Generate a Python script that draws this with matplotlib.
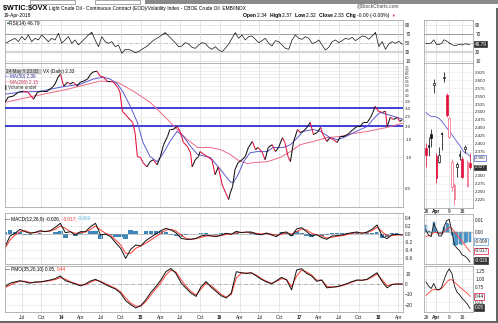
import numpy as np
import matplotlib
matplotlib.use("Agg")
import matplotlib.pyplot as plt
from matplotlib.collections import LineCollection
from matplotlib.patches import Rectangle

plt.rcParams['font.family'] = ['Liberation Sans', 'DejaVu Sans']

# ---------------- data (main, decimal years) ----------------
T_START, T_END = 2013.29, 2018.30

price_t = [2013.29, 2013.33, 2013.39, 2013.46, 2013.52, 2013.58, 2013.65, 2013.70, 2013.76, 2013.82,
           2013.89, 2013.92, 2013.96, 2013.99, 2014.03, 2014.08, 2014.11, 2014.15, 2014.20, 2014.24,
           2014.28, 2014.33, 2014.37, 2014.40, 2014.45, 2014.49, 2014.53, 2014.58, 2014.62, 2014.66,
           2014.71, 2014.74, 2014.77, 2014.81, 2014.84, 2014.90, 2014.93, 2014.96, 2015.00, 2015.03,
           2015.08, 2015.12, 2015.16, 2015.21, 2015.25, 2015.29, 2015.34, 2015.37, 2015.41, 2015.46,
           2015.50, 2015.54, 2015.59, 2015.63, 2015.65, 2015.69, 2015.73, 2015.75, 2015.84, 2015.90,
           2015.94, 2015.98, 2016.03, 2016.07, 2016.11, 2016.13, 2016.16, 2016.19, 2016.23, 2016.28,
           2016.32, 2016.36, 2016.41, 2016.45, 2016.48, 2016.53, 2016.57, 2016.61, 2016.66, 2016.70,
           2016.74, 2016.79, 2016.82, 2016.86, 2016.89, 2016.93, 2016.98, 2017.01, 2017.05, 2017.10,
           2017.14, 2017.18, 2017.23, 2017.27, 2017.30, 2017.35, 2017.39, 2017.43, 2017.48, 2017.52,
           2017.56, 2017.61, 2017.64, 2017.68, 2017.73, 2017.77, 2017.81, 2017.86, 2017.90, 2017.93,
           2017.96, 2018.00, 2018.05, 2018.09, 2018.11, 2018.15, 2018.19, 2018.24, 2018.27, 2018.30]
price_v = [3.44, 3.85, 3.94, 4.31, 4.40, 4.31, 3.68, 4.31, 4.40, 4.40,
           4.82, 5.16, 6.04, 6.46, 4.93, 5.39, 5.16, 5.39, 4.93, 5.39,
           5.52, 5.77, 6.46, 6.76, 6.91, 6.17, 6.04, 5.52, 5.52, 5.39,
           4.82, 4.31, 2.81, 2.62, 2.45, 2.19, 1.75, 1.02, 1.00, 0.89,
           0.81, 0.91, 0.95, 0.85, 1.02, 1.33, 1.60, 1.87, 1.87, 2.00,
           1.79, 1.40, 1.28, 1.11, 0.81, 0.95, 1.02, 1.14, 1.02, 0.95,
           0.68, 0.81, 0.54, 0.46, 0.39, 0.45, 0.52, 0.76, 0.89, 0.95,
           1.02, 1.25, 1.43, 1.19, 1.25, 1.14, 0.95, 1.25, 1.33, 1.14,
           1.25, 1.56, 1.40, 1.02, 0.91, 1.43, 1.87, 1.75, 1.79, 1.96,
           2.19, 1.67, 1.75, 1.96, 1.67, 1.43, 1.56, 1.49, 1.40, 1.60,
           1.60, 1.67, 1.75, 1.87, 2.00, 2.00, 2.19, 2.19, 2.45, 2.74,
           3.14, 2.81, 2.74, 2.81, 2.00, 2.45, 2.34, 2.45, 2.24, 2.33]

ma50_t = [2013.29, 2013.48, 2013.74, 2013.99, 2014.24, 2014.40, 2014.53, 2014.62, 2014.71, 2014.78,
          2014.87, 2014.96, 2015.03, 2015.12, 2015.21, 2015.29, 2015.37, 2015.46, 2015.54, 2015.63,
          2015.72, 2015.88, 2016.01, 2016.13, 2016.17, 2016.23, 2016.30, 2016.38, 2016.47, 2016.60,
          2016.67, 2016.80, 2016.89, 2016.98, 2017.05, 2017.18, 2017.27, 2017.39, 2017.48, 2017.56,
          2017.64, 2017.77, 2017.86, 2017.93, 2018.02, 2018.11, 2018.19, 2018.30]
ma50_v = [4.12, 4.31, 4.40, 4.82, 5.16, 5.77, 6.04, 5.77, 5.16, 4.31,
          3.14, 2.19, 1.40, 1.02, 0.91, 1.11, 1.43, 1.79, 1.60, 1.28,
          1.07, 1.00, 0.76, 0.58, 0.57, 0.68, 0.91, 1.11, 1.14, 1.14,
          1.25, 1.25, 1.33, 1.56, 1.79, 1.87, 1.79, 1.56, 1.49, 1.56,
          1.67, 1.87, 2.00, 2.34, 2.74, 2.62, 2.51, 2.36]

ma200_t = [2013.29, 2013.65, 2014.08, 2014.49, 2014.71, 2014.91, 2015.12, 2015.34, 2015.46, 2015.59,
           2015.72, 2015.88, 2016.01, 2016.13, 2016.22, 2016.35, 2016.42, 2016.60, 2016.76, 2016.89,
           2017.01, 2017.18, 2017.35, 2017.52, 2017.68, 2017.86, 2017.98, 2018.11, 2018.30]
ma200_v = [3.44, 3.94, 4.61, 5.52, 5.39, 4.40, 3.44, 2.34, 1.87, 1.49,
           1.25, 1.25, 1.19, 1.07, 0.95, 0.87, 0.89, 0.91, 1.00, 1.14,
           1.33, 1.43, 1.56, 1.60, 1.71, 1.79, 1.87, 1.96, 2.15]

support_levels = [2.0, 3.0]

rsi_v = [49.0, 52.8, 56.6, 60.3, 52.8, 64.1, 56.6, 67.9, 52.8, 60.3,
         56.6, 67.9, 60.3, 52.8, 60.3, 56.6, 71.6, 49.0, 56.6, 64.1,
         49.0, 56.6, 45.2, 52.8, 60.3, 67.9, 73.9, 56.6, 41.5, 64.1,
         52.8, 49.0, 52.8, 41.5, 45.2, 26.4, 35.4, 35.4, 32.4, 27.9,
         30.2, 35.4, 40.0, 45.2, 52.8, 58.1, 62.6, 67.9, 73.2, 65.6,
         58.1, 50.5, 41.5, 43.0, 50.5, 47.5, 40.0, 37.7, 45.2, 50.5,
         49.0, 40.0, 35.4, 41.5, 33.9, 30.2, 37.7, 47.5, 60.3, 73.2,
         60.3, 67.9, 56.6, 64.1,
         65.6, 58.1, 50.5, 55.1, 60.3, 49.0, 43.0, 55.1, 52.8, 45.2,
         37.7, 35.4, 56.6, 67.9, 60.3, 58.1, 64.1, 60.3, 49.0, 50.5,
         56.6, 45.2, 33.9, 40.0, 52.8, 56.6, 50.5, 55.1, 60.3, 58.1,
         62.6, 55.1, 60.3, 65.6, 64.1, 58.1, 65.6, 73.9, 41.5, 52.8,
         35.4, 47.5, 52.8, 49.0, 53.5, 46.79]

macd_v = [-0.317, -0.05, 0.017, 0.117, 0.058, 0.017, 0.042, 0.083, 0.058, 0.083,
          0.167, 0.267, 0.033, 0.058, -0.025, 0.058, 0.058, 0.183, 0.267, -0.025,
          0.0, -0.067, -0.217, -0.358, -0.608, -0.383, -0.275, -0.3, -0.167, -0.083,
          0.0, 0.083, 0.142, 0.1, 0.033, -0.108, -0.133, -0.133, -0.108, -0.05,
          -0.025, -0.05, -0.067, -0.025, 0.017, -0.008, 0.067, 0.033, 0.05,
          0.05, 0.0, -0.017, 0.025, -0.025, -0.067, 0.033, 0.05, -0.05, 0.125,
          0.158, 0.058, -0.05, -0.017, -0.092, -0.133, -0.05, -0.042, -0.025, 0.008,
          0.033, 0.05, 0.017, 0.05, 0.117, 0.225, -0.05, -0.117, -0.017, -0.008, -0.026]
macd_sig = [-0.358, -0.15, -0.025, 0.058, 0.083, 0.033, 0.033, 0.058, 0.067, 0.075,
            0.117, 0.2, 0.142, 0.058, 0.017, 0.033, 0.05, 0.117, 0.2, 0.1,
            0.017, -0.033, -0.15, -0.275, -0.483, -0.483, -0.358, -0.3, -0.233, -0.15,
            -0.067, 0.017, 0.1, 0.117, 0.075, -0.025, -0.108, -0.133, -0.117, -0.083,
            -0.05, -0.042, -0.05, -0.042, -0.008, 0.0, 0.033, 0.042, 0.042,
            0.033, 0.017, 0.0, 0.008, 0.0, -0.033, -0.008, 0.033, 0.0, 0.058,
            0.125, 0.1, 0.017, -0.017, -0.05, -0.1, -0.083, -0.058, -0.042, -0.017,
            0.017, 0.033, 0.025, 0.033, 0.083, 0.167, 0.058, -0.05, -0.042, -0.025, -0.017]

pmo_v = [-2.3, 1.0, 2.3, 3.5, 2.3, 1.0, 2.3, 2.3, 3.2, 4.2,
         5.5, 8.1, 3.5, 1.9, 0.3, -1.6, 0.3, 3.2, 4.8, 2.3,
         -0.3, -2.6, -4.8, -8.7, -16.1, -20.0, -23.2, -21.0, -15.2, -8.1,
         -2.3, 4.2, 12.3, 15.5, 10.6, 1.6, -3.9, -8.7, -11.9, -2.3,
         2.6, -2.9, -7.1, -11.3, -13.5, -8.7, 12.3, 11.3, 10.6,
         11.3, 8.1, 4.8, 2.3, 0.3, 3.5, 6.8, 4.2, -5.5, 13.9,
         15.2, 10.6, 8.1, 2.9, 4.2, -3.5, -2.9, -2.3, -1.0, 0.6,
         2.6, 4.2, 3.9, 4.8, 8.1, 11.3, 2.6, -3.5, -0.3, 0.3, 0.05]
pmo_sig = [-3.0, -1.0, 1.5, 2.8, 3.0, 1.8, 1.8, 2.2, 2.8, 3.6,
           4.6, 6.5, 5.0, 2.5, 0.8, -0.8, -0.5, 2.0, 4.0, 3.0,
           0.5, -1.8, -4.0, -7.5, -13.5, -18.5, -21.5, -21.5, -17.0, -10.5,
           -4.5, 1.5, 9.0, 14.0, 12.0, 4.5, -2.0, -7.0, -10.5, -4.5,
           1.0, -1.5, -5.5, -10.0, -12.5, -10.0, 6.0, 11.0, 11.0,
           11.0, 9.0, 5.5, 3.0, 1.0, 2.8, 5.5, 4.8, -2.5, 8.0,
           14.0, 12.0, 9.0, 4.0, 4.0, -2.0, -2.8, -2.5, -1.5, 0.0,
           2.0, 3.8, 4.0, 4.5, 7.0, 10.0, 4.5, -1.5, 0.0, 0.2, 0.44]

qtr_labels = ["Jul", "Oct", "14", "Apr", "Jul", "Oct", "15", "Apr", "Jul", "Oct",
              "16", "Apr", "Jul", "Oct", "17", "Apr", "Jul", "Oct", "18", "Apr"]

price_ticks = [0.5, 1.0, 1.5, 2.0, 2.5, 3.0, 3.5, 4.0, 4.5, 5.0, 5.5, 6.0, 6.5, 7.0, 7.5]

# ---------------- data (recent detail, last 18 sessions) ----------------
sec_labels = ["26", "Apr", "9", "16"]
sec_label_idx = [0, 4, 9, 14]
prev_close = 2.40
c_open = [2.387, 2.396, 2.431, 2.585, 2.360, 2.343, 2.434, 2.607, 2.554, 2.421,
          2.264, 2.226, 2.327, 2.360, 2.352, 2.383, 2.267, 2.34]
c_high = [2.402, 2.421, 2.446, 2.604, 2.371, 2.390, 2.436, 2.626, 2.560, 2.484,
          2.352, 2.276, 2.343, 2.380, 2.360, 2.396, 2.349, 2.37]
c_low = [2.327, 2.360, 2.390, 2.560, 2.276, 2.341, 2.380, 2.594, 2.484, 2.418,
         2.251, 2.207, 2.295, 2.349, 2.292, 2.371, 2.264, 2.32]
c_close = [2.365, 2.390, 2.418, 2.591, 2.292, 2.365, 2.431, 2.610, 2.491, 2.481,
           2.343, 2.270, 2.335, 2.368, 2.295, 2.390, 2.343, 2.327]
sec_ma50 = [2.498, 2.491, 2.486, 2.486, 2.484, 2.480, 2.472, 2.461, 2.450, 2.440,
            2.429, 2.417, 2.406, 2.395, 2.382, 2.372, 2.369, 2.360]
sec_rsi = [49, 48, 50, 57, 47, 46, 49, 57, 54, 50, 46, 44, 45, 47, 45, 48, 47, 46.79]
sec_macd = [0.0014, -0.0029, -0.0043, 0.0071, 0.0020, -0.0037, -0.0037, 0.0043, 0.0094, 0.0106,
            0.0, -0.0114, -0.0143, -0.0163, -0.0200, -0.0209, -0.0229, -0.026]
sec_signal = [-0.0043, -0.0034, -0.0029, -0.0009, -0.0006, -0.0014, -0.0014, 0.0, 0.0020, 0.0037,
              0.0029, 0.0, -0.0029, -0.0057, -0.0086, -0.0114, -0.0143, -0.017]
sec_pmo = [0.90, 0.77, 0.69, 0.85, 0.67, 0.65, 0.72, 0.97, 1.19, 1.32,
           1.17, 0.77, 0.57, 0.49, 0.37, 0.29, 0.19, 0.05]
sec_pmo_sig = [0.47, 0.55, 0.62, 0.67, 0.65, 0.64, 0.69, 0.79, 0.89, 0.97,
               0.97, 0.89, 0.82, 0.74, 0.67, 0.60, 0.54, 0.44]

# ---------------- figure ----------------
W, H = 498, 323
fig = plt.figure(figsize=(W / 100, H / 100), dpi=100)
fig.patch.set_facecolor('white')

RED = '#e0103c'
PINK = '#f0607e'
BLUE_MA = '#5a5ad2'
RED_MA = '#ea6a86'
SIG_RED = '#ff3b30'
HIST = '#3f86b8'
GRID = '#dcdcdc'
FS = 3.4


def ax_at(x0, y0, x1, y1):
    return fig.add_axes([x0 / W, 1 - y1 / H, (x1 - x0) / W, (y1 - y0) / H])


def style(ax):
    for s in ax.spines.values():
        s.set_color('#a8a8a8')
        s.set_linewidth(0.6)
    ax.yaxis.tick_right()
    ax.tick_params(length=0, labelsize=FS, pad=1.6, colors='#222222')
    ax.set_axisbelow(True)


def ftext(x, y, s, **kw):
    kw.setdefault('fontsize', FS)
    kw.setdefault('va', 'center')
    kw.setdefault('ha', 'left')
    return fig.text(x / W, 1 - y / H, s, **kw)


renderer = fig.canvas.get_renderer()


def seq_text(x, y, pieces, size=FS):
    for s, kw in pieces:
        opts = dict(fontsize=size)
        opts.update(kw)
        t = ftext(x, y, s, **opts)
        x += t.get_window_extent(renderer=renderer).width


q_pos = 2013.5 + 0.25 * np.arange(len(qtr_labels))

main_panels = dict(rsi=(5, 20, 403, 63), price=(5, 63, 403, 207),
                   macd=(5, 213, 403, 264), pmo=(5, 266, 403, 312))
sec_panels = dict(rsi=(424, 20, 473, 63), price=(424, 63, 473, 208),
                  macd=(424, 214, 473, 264), pmo=(424, 266, 473, 312))

# ---- main RSI ----
t_rsi = np.linspace(T_START, T_END, len(rsi_v))
ax = ax_at(*main_panels['rsi'])
style(ax)
ax.set_xlim(T_START, 2018.31)
ax.set_ylim(4.5, 101.8)
for lv in (10, 90):
    ax.axhline(lv, color=GRID, lw=0.5)
ax.axhline(30, color='#d6d6d6', lw=1.6)
ax.axhline(70, color='#8c8c8c', lw=0.6)
ax.axhline(50, color='#9a9a9a', lw=0.4, ls='-.')
for q in q_pos:
    ax.axvline(q, color=GRID, lw=0.5)
rv = np.array(rsi_v)
ax.fill_between(t_rsi, rv, 70, where=rv > 70, color='#2a8a2a', lw=0, interpolate=True)
ax.fill_between(t_rsi, rv, 30, where=rv < 30, color='#8a2a3a', lw=0, interpolate=True)
ax.plot(t_rsi, rv, color='#111111', lw=0.5)
ax.set_yticks([10, 30, 50, 70, 90])
ax.set_xticks([])

# ---- main price ----
ax = ax_at(*main_panels['price'])
style(ax)
ax.set_yscale('log')
ax.set_xlim(T_START, 2018.31)
ax.set_ylim(0.330, 8.28)
for q in q_pos:
    ax.axvline(q, color=GRID, lw=0.5)
for pt in price_ticks:
    ax.axhline(pt, color='#e6e6e6', lw=0.45)
for lv in support_levels:
    ax.axhline(lv, color='#1010cc', lw=1.1, zorder=3)
ax.plot(ma200_t, ma200_v, color=RED_MA, lw=0.7, zorder=4)
ax.plot(ma50_t, ma50_v, color=BLUE_MA, lw=0.7, zorder=4)
pts = np.column_stack([price_t, price_v])
segs = np.stack([pts[:-1], pts[1:]], axis=1)
cols = np.where(np.diff(price_v) >= 0, '#111111', RED)
ax.add_collection(LineCollection(segs, colors=cols, linewidths=0.75, zorder=5))
ax.set_yticks(price_ticks)
ax.set_yticklabels([f"{v:.1f}" for v in price_ticks])
ax.yaxis.set_minor_locator(matplotlib.ticker.NullLocator())
for lab, v in zip(ax.get_yticklabels(), price_ticks):
    lab.set_fontsize(2.3 if v >= 4.0 else 3.2)
ax.set_xticks([])

# ---- main MACD ----
t_ind = np.linspace(T_START, T_END, len(macd_v))
ax = ax_at(*main_panels['macd'])
style(ax)
ax.set_xlim(T_START, 2018.31)
ax.set_ylim(-0.75, 0.525)
for q in q_pos:
    ax.axvline(q, color=GRID, lw=0.5)
for lv in (0.4, 0.2, -0.2, -0.4, -0.6):
    ax.axhline(lv, color='#e6e6e6', lw=0.45)
ax.axhline(0, color='#9a9a9a', lw=0.4)
hist = np.array(macd_v) - np.array(macd_sig)
ax.bar(t_ind, hist, width=(T_END - T_START) / len(macd_v) * 0.9, color=HIST, lw=0)
ax.plot(t_ind, macd_sig, color=SIG_RED, lw=0.7)
ax.plot(t_ind, macd_v, color='#111111', lw=0.7)
ax.set_yticks([0.4, 0.2, 0.0, -0.2, -0.4, -0.6])
ax.set_yticklabels(["0.4", "0.2", "0.0", "-0.2", "-0.4", "-0.6"])
ax.set_xticks([])

# ---- main PMO ----
ax = ax_at(*main_panels['pmo'])
style(ax)
ax.set_xlim(T_START, 2018.31)
ax.set_ylim(-27.2, 17.9)
for q in q_pos:
    ax.axvline(q, color=GRID, lw=0.5)
for lv in (10, -10, -20):
    ax.axhline(lv, color='#e6e6e6', lw=0.45)
ax.axhline(0, color='#8a8a8a', lw=0.45, ls='-.')
ax.plot(t_ind, pmo_sig, color=SIG_RED, lw=0.7)
ax.plot(t_ind, pmo_v, color='#111111', lw=0.7)
ax.set_yticks([10, 0, -10, -20])
ax.set_xticks(q_pos)
ax.set_xticklabels(qtr_labels)
for lab in ax.get_xticklabels():
    if lab.get_text().isdigit():
        lab.set_fontweight('bold')
ax.tick_params(axis='x', pad=2.2)

# ---------------- secondary (recent) panels ----------------
n = len(c_close)
idx = np.arange(n)
SX = (-0.77, 18.16)


def sec_style(ax):
    style(ax)
    ax.set_xlim(*SX)
    for i in sec_label_idx:
        ax.axvline(i, color=GRID, lw=0.5)
    ax.set_xticks([])


# RSI
ax = ax_at(*sec_panels['rsi'])
sec_style(ax)
ax.set_ylim(4.5, 101.8)
for lv in (10, 90):
    ax.axhline(lv, color=GRID, lw=0.5)
ax.axhline(30, color='#d6d6d6', lw=1.6)
ax.axhline(70, color='#8c8c8c', lw=0.6)
ax.axhline(50, color='#9a9a9a', lw=0.4, ls='-.')
ax.plot(idx, sec_rsi, color='#111111', lw=0.5)
ax.set_yticks([10, 30, 70, 90])

# Price candles
ax = ax_at(*sec_panels['price'])
sec_style(ax)
ax.set_ylim(2.198, 2.654)
ptick = [2.225, 2.250, 2.275, 2.300, 2.375, 2.400, 2.425, 2.450, 2.475, 2.500,
         2.525, 2.550, 2.575, 2.600, 2.625]
for pt in ptick:
    ax.axhline(pt, color='#ececec', lw=0.45)
ax.set_yticks(ptick)
ax.set_yticklabels([f"{v:.3f}" for v in ptick])
ax.tick_params(axis='y', labelsize=3.2)
co = np.array(c_open); cc = np.array(c_close)
prev = np.concatenate([[prev_close], cc[:-1]])
up = cc >= prev
filled = cc < co
edge = np.where(up, '#111111', np.where(filled, RED, PINK))
face = np.where(filled, np.where(up, '#111111', RED), 'white')
ax.plot(idx, sec_ma50, color=BLUE_MA, lw=0.6, zorder=2)
ax.vlines(idx, c_low, c_high, colors=edge, lw=0.55, zorder=3)
bot = np.minimum(co, cc)
hgt = np.maximum(np.abs(cc - co), 0.003)
ax.bar(idx, hgt, bottom=bot, width=0.62, color=face, edgecolor=edge, lw=0.5, zorder=4)

# MACD
ax = ax_at(*sec_panels['macd'])
sec_style(ax)
ax.set_ylim(-0.0277, 0.0151)
ax.axhline(0.01, color='#ececec', lw=0.45)
ax.axhline(0.0, color='#9a9a9a', lw=0.4)
shist = np.array(sec_macd) - np.array(sec_signal)
ax.bar(idx, shist, width=0.8, color='#5aa2d4', edgecolor='#2f6f9f', lw=0.3)
ax.plot(idx, sec_signal, color=SIG_RED, lw=0.6)
ax.plot(idx, sec_macd, color='#111111', lw=0.6)
ax.set_yticks([0.01, 0.0])
ax.set_yticklabels(["0.01", "0.00"])

# PMO
ax = ax_at(*sec_panels['pmo'])
sec_style(ax)
ax.set_ylim(-0.06, 1.41)
for lv in (1.25, 1.0, 0.75, 0.25):
    ax.axhline(lv, color='#ececec', lw=0.45)
ax.plot(idx, sec_pmo_sig, color=SIG_RED, lw=0.6)
ax.plot(idx, sec_pmo, color='#111111', lw=0.6)
ax.set_yticks([1.25, 1.0, 0.75, 0.25])
ax.set_yticklabels(["1.25", "1.00", "0.75", "0.25"])
ax.set_xticks(sec_label_idx)
ax.set_xticklabels(sec_labels)
ax.tick_params(axis='x', pad=2.2)
for lab in ax.get_xticklabels():
    if lab.get_text() == "Apr":
        lab.set_fontweight('bold')

# secondary date labels between price and MACD
sec_w = sec_panels['price'][2] - sec_panels['price'][0]
for i, lab in zip(sec_label_idx, sec_labels):
    xp = sec_panels['price'][0] + (i - SX[0]) / (SX[1] - SX[0]) * sec_w
    ftext(xp, 211.5, lab, ha='center', fontweight='bold' if lab == "Apr" else 'normal')


# value boxes at right of recent panels
def vbox(y, s, fc, ec, tc, size=FS):
    ftext(474.5, y, s, color=tc, fontsize=size,
          bbox=dict(boxstyle='square,pad=0.12', fc=fc, ec=ec, lw=0.5))


vbox(44, "46.79", '#333333', '#333333', 'white')
vbox(158, "2.360", 'white', '#4a58d8', '#222222', 3.1)
vbox(167.5, "2.327", '#333333', '#333333', 'white', 3.1)
vbox(241.5, "-0.009", 'white', '#5b9bd5', '#222222')
vbox(250.8, "-0.017", 'white', RED, '#222222')
vbox(260.5, "-0.026", '#333333', '#333333', 'white')
vbox(296.5, "0.44", 'white', RED, '#222222')
vbox(307.5, "0.05", '#333333', '#333333', 'white')

# ---------------- header / legends ----------------
fig.patches.append(Rectangle((145 / W, 1 - 4 / H), (W - 145) / W, 4 / H,
                             transform=fig.transFigure, fc='#8a8a8a', ec='none'))
for bx in (30, 95):
    fig.patches.append(Rectangle((bx / W, 1 - 4 / H), 45 / W, 4 / H,
                                 transform=fig.transFigure, fc='white', ec='#666666', lw=0.4))
fig.patches.append(Rectangle((496 / W, 0), 2 / W, 1 - 8 / H,
                             transform=fig.transFigure, fc='#666666', ec='none'))
fig.patches.append(Rectangle((0, 0), 1, 2 / H,
                             transform=fig.transFigure, fc='#666666', ec='none'))

seq_text(3, 8.3, [("\\$WTIC:\\$OVX ", dict(fontweight='bold', fontsize=5.2)),
                  ("Light Crude Oil - Continuous Contract (EOD)/Volatility Index - CBOE Crude Oil  EMB/INDX",
                   dict(fontsize=3.5))], size=3.5)
ftext(357, 5.5, "@StockCharts.com", fontsize=3.5, color='#444444')
ftext(4, 15.5, "19-Apr-2018", fontsize=3.5)
seq_text(243, 15.5, [("Open ", dict(fontweight='bold')), ("2.34  ", {}),
                     ("High ", dict(fontweight='bold')), ("2.37  ", {}),
                     ("Low ", dict(fontweight='bold')), ("2.32  ", {}),
                     ("Close ", dict(fontweight='bold')), ("2.33  ", {}),
                     ("Chg ", dict(fontweight='bold')), ("-0.00 (-0.00%) ", {}),
                     ("\u25BC", dict(color=RED, fontsize=2.6))], size=3.6)
seq_text(5, 23.5, [("\u25B2", dict(color='#2a7a2a', fontsize=3.0)), ("RSI(14) 46.79", {})], size=3.5)

# main legend
fig.patches.append(Rectangle((5 / W, 1 - 73.5 / H), 37 / W, 5 / H,
                             transform=fig.transFigure, fc='#c9c9c9', ec='none'))
ftext(6, 71, "24 May Y 23.82", fontsize=3.3, color='#333333')
ftext(42.5, 71, "VX (Daily) 2.33", fontsize=3.3)
seq_text(5, 76.5, [("\u2014", dict(color=BLUE_MA)), ("MA(50) 2.36", dict(color='#333399'))], size=3.3)
seq_text(5, 82, [("\u2014", dict(color=RED_MA)), ("MA(200) 2.15", dict(color='#c03050'))], size=3.3)
seq_text(5, 87.5, [("\u258C", dict(color='#444444', fontsize=2.8)), ("Volume undef", dict(color='#333333'))], size=3.3)

# indicator headers
seq_text(5, 219, [("\u2014 MACD(12,26,9) -0.026, ", {}), ("-0.017, ", dict(color=SIG_RED)),
                  ("-0.009", dict(color='#5bb8e0'))], size=3.4)
seq_text(5, 269.5, [("\u2014 PMO(35,20,10) 0.05, ", {}), ("0.44", dict(color=SIG_RED))], size=3.4)

fig.savefig("out.png", dpi=100, facecolor='white')
